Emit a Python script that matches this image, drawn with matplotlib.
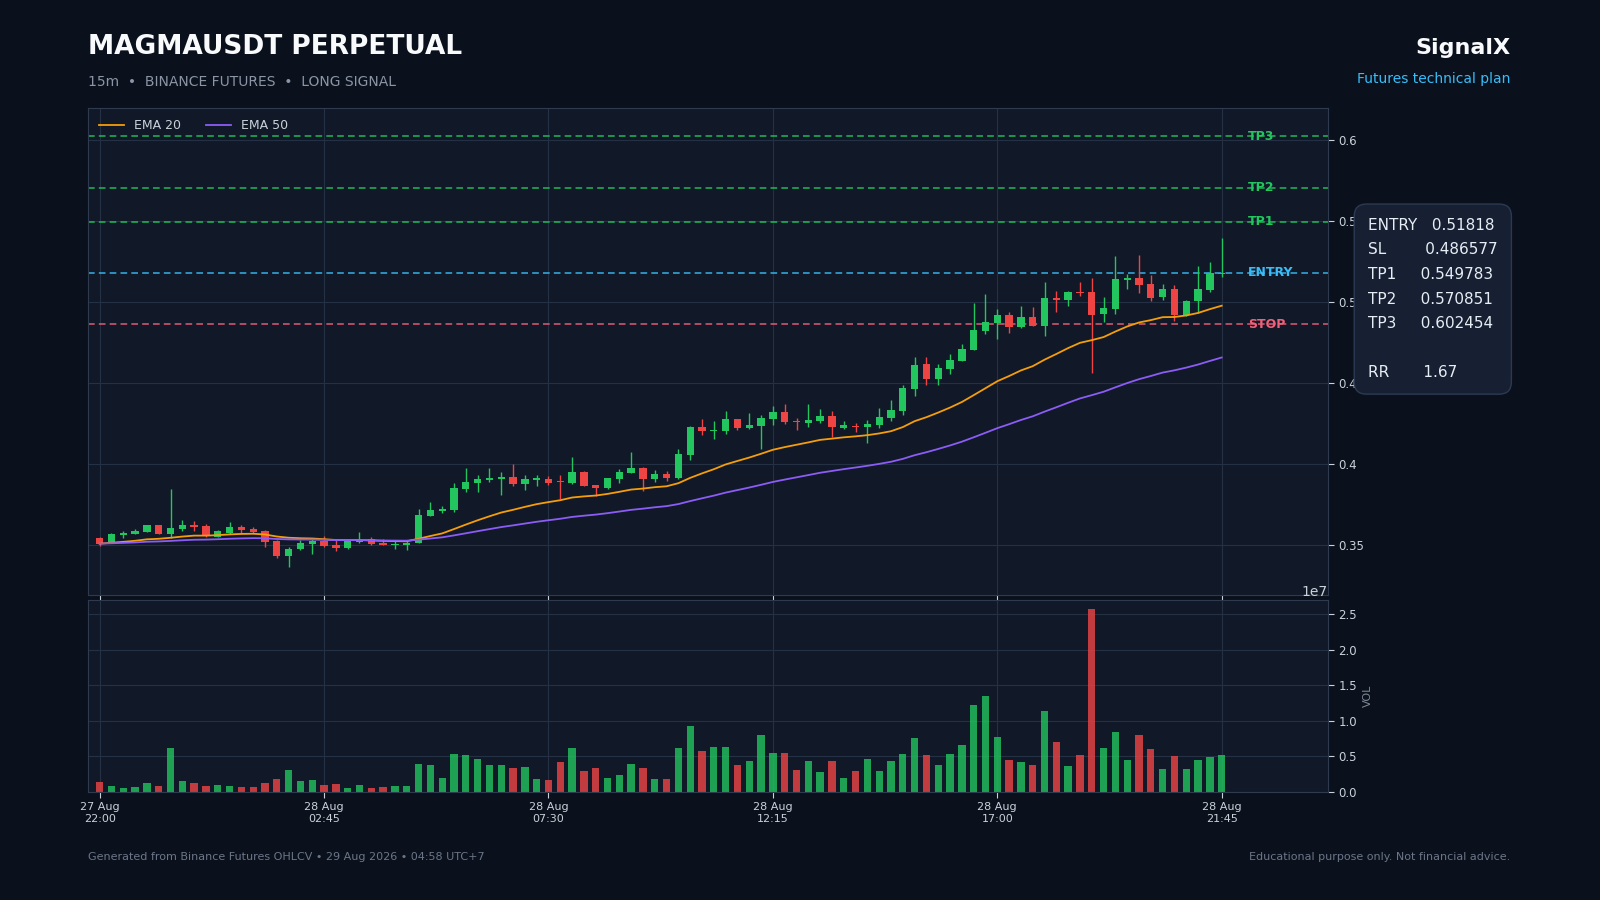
import matplotlib
matplotlib.use("Agg")
import matplotlib.pyplot as plt
from matplotlib.ticker import MultipleLocator, FuncFormatter
import numpy as np
import pandas as pd

# ── data (15m candles) ─────────────────────────────────────────────────────
opens = [
    0.3547, 0.3516, 0.3566, 0.3572, 0.3584, 0.3623, 0.3572, 0.3603, 0.3625, 0.3617,
    0.3553, 0.3574, 0.3611, 0.3601, 0.3588, 0.3527, 0.3436, 0.3475, 0.3510, 0.3527,
    0.3502, 0.3486, 0.3523, 0.3537, 0.3514, 0.3504, 0.3504, 0.3516, 0.3683, 0.3714,
    0.3718, 0.3848, 0.3887, 0.3903, 0.3909, 0.3921, 0.3881, 0.3905, 0.3909, 0.3899,
    0.3887, 0.3955, 0.3870, 0.3854, 0.3912, 0.3949, 0.3975, 0.3909, 0.3940, 0.3918,
    0.4057, 0.4229, 0.4208, 0.4208, 0.4280, 0.4224, 0.4239, 0.4280, 0.4323, 0.4269,
    0.4257, 0.4269, 0.4298, 0.4226, 0.4237, 0.4232, 0.4245, 0.4286, 0.4331, 0.4467,
    0.4619, 0.4529, 0.4591, 0.4640, 0.4708, 0.4825, 0.4874, 0.4922, 0.4850, 0.4907,
    0.4856, 0.5025, 0.5016, 0.5066, 0.5064, 0.4928, 0.4961, 0.5140, 0.5150, 0.5113,
    0.5035, 0.5080, 0.4922, 0.5008, 0.5076, 0.5175,
]
highs = [
    0.3550, 0.3578, 0.3590, 0.3599, 0.3625, 0.3627, 0.3846, 0.3654, 0.3648, 0.3630,
    0.3592, 0.3642, 0.3623, 0.3615, 0.3595, 0.3533, 0.3488, 0.3533, 0.3541, 0.3558,
    0.3533, 0.3533, 0.3580, 0.3549, 0.3537, 0.3527, 0.3533, 0.3722, 0.3765, 0.3745,
    0.3883, 0.3975, 0.3932, 0.3975, 0.3950, 0.3999, 0.3932, 0.3932, 0.3930, 0.3932,
    0.4047, 0.3959, 0.3872, 0.3918, 0.3969, 0.4078, 0.3986, 0.3967, 0.3961, 0.4092,
    0.4236, 0.4277, 0.4269, 0.4329, 0.4282, 0.4315, 0.4302, 0.4362, 0.4370, 0.4288,
    0.4370, 0.4339, 0.4327, 0.4265, 0.4253, 0.4272, 0.4346, 0.4395, 0.4487, 0.4660,
    0.4660, 0.4617, 0.4683, 0.4745, 0.4996, 0.5049, 0.4959, 0.4938, 0.4979, 0.4969,
    0.5127, 0.5072, 0.5068, 0.5128, 0.5148, 0.5031, 0.5288, 0.5177, 0.5294, 0.5171,
    0.5115, 0.5107, 0.5016, 0.5226, 0.5247, 0.5399,
]
lows = [
    0.3496, 0.3512, 0.3543, 0.3570, 0.3580, 0.3570, 0.3543, 0.3586, 0.3588, 0.3549,
    0.3549, 0.3570, 0.3574, 0.3574, 0.3492, 0.3420, 0.3364, 0.3471, 0.3444, 0.3488,
    0.3465, 0.3475, 0.3512, 0.3504, 0.3502, 0.3479, 0.3469, 0.3512, 0.3681, 0.3697,
    0.3708, 0.3827, 0.3827, 0.3889, 0.3809, 0.3869, 0.3840, 0.3864, 0.3870, 0.3784,
    0.3876, 0.3864, 0.3807, 0.3846, 0.3883, 0.3944, 0.3835, 0.3889, 0.3897, 0.3912,
    0.4025, 0.4179, 0.4154, 0.4185, 0.4210, 0.4216, 0.4093, 0.4243, 0.4247, 0.4212,
    0.4228, 0.4257, 0.4167, 0.4216, 0.4197, 0.4130, 0.4226, 0.4269, 0.4302, 0.4422,
    0.4490, 0.4488, 0.4558, 0.4640, 0.4706, 0.4805, 0.4774, 0.4809, 0.4839, 0.4854,
    0.4790, 0.4940, 0.4979, 0.5037, 0.4562, 0.4881, 0.4926, 0.5082, 0.5056, 0.5008,
    0.5012, 0.4883, 0.4918, 0.4932, 0.5066, 0.5154,
]
closes = [
    0.3510, 0.3568, 0.3576, 0.3588, 0.3623, 0.3572, 0.3605, 0.3625, 0.3615, 0.3560,
    0.3590, 0.3611, 0.3597, 0.3582, 0.3523, 0.3436, 0.3475, 0.3514, 0.3527, 0.3496,
    0.3486, 0.3527, 0.3535, 0.3508, 0.3502, 0.3510, 0.3516, 0.3687, 0.3718, 0.3726,
    0.3854, 0.3891, 0.3907, 0.3913, 0.3922, 0.3879, 0.3909, 0.3914, 0.3887, 0.3889,
    0.3953, 0.3868, 0.3856, 0.3914, 0.3953, 0.3975, 0.3909, 0.3940, 0.3918, 0.4064,
    0.4228, 0.4207, 0.4214, 0.4280, 0.4224, 0.4243, 0.4286, 0.4323, 0.4263, 0.4259,
    0.4274, 0.4298, 0.4232, 0.4243, 0.4230, 0.4249, 0.4292, 0.4335, 0.4471, 0.4613,
    0.4525, 0.4593, 0.4642, 0.4710, 0.4829, 0.4878, 0.4922, 0.4850, 0.4907, 0.4856,
    0.5027, 0.5016, 0.5064, 0.5058, 0.4924, 0.4965, 0.5144, 0.5150, 0.5109, 0.5029,
    0.5080, 0.4922, 0.5008, 0.5082, 0.5181, 0.51818,
]
# volume in units of 1e7
volumes = [
    0.141, 0.084, 0.056, 0.070, 0.127, 0.084, 0.619, 0.155, 0.127, 0.084,
    0.098, 0.084, 0.070, 0.070, 0.127, 0.183, 0.310, 0.155, 0.169, 0.098,
    0.113, 0.056, 0.098, 0.056, 0.070, 0.084, 0.084, 0.394, 0.380, 0.197,
    0.535, 0.521, 0.464, 0.380, 0.380, 0.338, 0.352, 0.183, 0.169, 0.422,
    0.619, 0.296, 0.338, 0.197, 0.239, 0.394, 0.338, 0.183, 0.183, 0.619,
    0.929, 0.577, 0.633, 0.633, 0.380, 0.436, 0.802, 0.549, 0.549, 0.310,
    0.436, 0.281, 0.436, 0.197, 0.296, 0.464, 0.296, 0.436, 0.535, 0.760,
    0.521, 0.380, 0.535, 0.661, 1.224, 1.351, 0.774, 0.450, 0.422, 0.380,
    1.140, 0.704, 0.366, 0.521, 2.575, 0.619, 0.844, 0.450, 0.802, 0.605,
    0.324, 0.507, 0.324, 0.450, 0.493, 0.521,
]

entry, sl = 0.51818, 0.486577
tp1, tp2, tp3 = 0.549783, 0.570851, 0.602454
rr = 1.67

times = pd.date_range("2026-08-27 22:00", periods=len(closes), freq="15min")
tick_idx = [0, 19, 38, 57, 76, 95]

# ── styling ────────────────────────────────────────────────────────────────
BG = "#0b111c"
PANEL = "#111827"
GRID = "#243044"
SPINE = "#2e3a4d"
TXT = "#c9d1d9"
MUTED = "#8b95a6"
GREEN = "#22c55e"
RED = "#ef4444"

df = pd.DataFrame({"open": opens, "high": highs, "low": lows,
                   "close": closes, "volume": np.array(volumes) * 1e7})
df["ema20"] = df["close"].ewm(span=20, adjust=False).mean()
df["ema50"] = df["close"].ewm(span=50, adjust=False).mean()
x = np.arange(len(df))
up = df["close"] >= df["open"]
cols = np.where(up, GREEN, RED)

fig = plt.figure(figsize=(16, 9), dpi=100, facecolor=BG)
ax = fig.add_axes([0.0549, 0.3389, 0.7751, 0.5411])
axv = fig.add_axes([0.0549, 0.12, 0.7751, 0.2133], sharex=ax)

for a in (ax, axv):
    a.set_facecolor(PANEL)
    for s in a.spines.values():
        s.set_color(SPINE)
    a.grid(True, color=GRID, linewidth=0.8)
    a.set_axisbelow(True)
    a.yaxis.tick_right()
    a.tick_params(colors=TXT, labelsize=8.5, length=4)

# ── candles ────────────────────────────────────────────────────────────────
ax.vlines(x, df["low"], df["high"], colors=cols, linewidth=1.0, zorder=2)
body = np.maximum((df["close"] - df["open"]).abs(), 0.00025)
ax.bar(x, body, bottom=np.minimum(df["open"], df["close"]), width=0.62,
       color=cols, linewidth=0, zorder=3)
ax.plot(x, df["ema20"], color="#f59e0b", linewidth=1.3, label="EMA 20", zorder=4)
ax.plot(x, df["ema50"], color="#8b5cf6", linewidth=1.3, label="EMA 50", zorder=4)

levels = [("TP3", tp3, GREEN), ("TP2", tp2, GREEN), ("TP1", tp1, GREEN),
          ("ENTRY", entry, "#38bdf8"), ("STOP", sl, "#f0607a")]
for name, lvl, c in levels:
    ax.axhline(lvl, color=c, linestyle=(0, (4, 2.5)), linewidth=1.2, alpha=0.85, zorder=1.5)
    ax.text(97.2, lvl, name, color=c, fontsize=9, fontweight="bold",
            va="center", ha="left", zorder=5)

ax.set_xlim(-1, len(df) + 8)
ax.set_ylim(0.3193, 0.620)
ax.yaxis.set_major_locator(MultipleLocator(0.05))
ax.yaxis.set_major_formatter(FuncFormatter(lambda v, _: f"{v:g}"))
ax.tick_params(labelbottom=False)
leg = ax.legend(loc="upper left", ncol=2, frameon=False, fontsize=9)
for t in leg.get_texts():
    t.set_color(TXT)

# ── volume ────────────────────────────────────────────────────────────────
axv.bar(x, df["volume"], width=0.62, color=cols, alpha=0.8, linewidth=0)
axv.set_ylim(0, df["volume"].max() * 1.05)
axv.yaxis.set_offset_position("right")
axv.yaxis.get_offset_text().set_color(TXT)
axv.yaxis.get_offset_text().set_fontsize(10)
axv.yaxis.set_label_position("right")
axv.set_ylabel("VOL", color="#7d8796", fontsize=8)
axv.set_xticks(tick_idx)
axv.set_xticklabels([times[i].strftime("%d %b\n%H:%M") for i in tick_idx], fontsize=8)

# ── header / footer ───────────────────────────────────────────────────────
fig.text(0.055, 0.9397, "MAGMAUSDT PERPETUAL", color="#f8fafc", fontsize=19,
         fontweight="bold", va="baseline")
fig.text(0.055, 0.9044, "15m  •  BINANCE FUTURES  •  LONG SIGNAL", color=MUTED,
         fontsize=10, va="baseline")
fig.text(0.9438, 0.9397, "SignalX", color="#f8fafc", fontsize=16,
         fontweight="bold", ha="right", va="baseline")
fig.text(0.9438, 0.9074, "Futures technical plan", color="#38bdf8", fontsize=10,
         ha="right", va="baseline")

info = "\n".join([
    f"ENTRY   {entry}",
    f"SL        {sl}",
    f"TP1     {tp1}",
    f"TP2     {tp2}",
    f"TP3     {tp3}",
    "",
    f"RR       {rr:.2f}",
])
fig.text(0.855, 0.758, info, color="#e6edf3", fontsize=11, va="top", ha="left",
         linespacing=1.8,
         bbox=dict(boxstyle="round,pad=0.9,rounding_size=0.8", fc="#172033",
                   ec="#2b3a52", lw=1))

fig.text(0.055, 0.0444, "Generated from Binance Futures OHLCV • 29 Aug 2026 • 04:58 UTC+7",
         color="#6b7689", fontsize=8, va="baseline")
fig.text(0.9438, 0.0444, "Educational purpose only. Not financial advice.",
         color="#6b7689", fontsize=8, ha="right", va="baseline")

fig.savefig("out.png", dpi=100, facecolor=BG)
